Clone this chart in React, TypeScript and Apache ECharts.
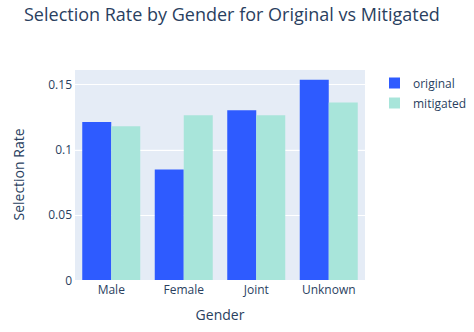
import React, { useEffect, useRef } from "react";
import * as echarts from "echarts";

const categories = ["Male", "Female", "Joint", "Unknown"];
const originalValues = [0.1213, 0.0848, 0.1303, 0.1538];
const mitigatedValues = [0.118, 0.1265, 0.1265, 0.1362];
const seriesNames = ["original", "mitigated"];

const FONT = "'Open Sans', 'DejaVu Sans', sans-serif";
const TXT = "#2a3f5f";

export default function App() {
  const ref = useRef<HTMLDivElement>(null);
  useEffect(() => {
    document.body.style.margin = "0";
    const chart = echarts.init(ref.current!, undefined, { renderer: "svg" });
    chart.setOption({
      animation: false,
      backgroundColor: "#ffffff",
      textStyle: { fontFamily: FONT },
      title: {
        text: "Selection Rate by Gender for Original vs Mitigated",
        left: 19,
        top: 0,
        textStyle: { fontFamily: FONT, fontSize: 18, fontWeight: "normal", color: TXT },
      },
      legend: {
        orient: "vertical",
        left: 384,
        top: 72,
        itemWidth: 11,
        itemHeight: 11,
        itemGap: 8,
        icon: "rect",
        data: seriesNames,
        textStyle: { fontFamily: FONT, fontSize: 12, color: TXT, padding: [0, 0, 0, 8] },
      },
      grid: { left: 75, right: 109, top: 69, bottom: 52, containLabel: false },
      xAxis: {
        type: "category",
        data: categories,
        name: "Gender",
        nameLocation: "middle",
        nameGap: 27,
        nameTextStyle: { fontFamily: FONT, fontSize: 14, color: TXT },
        axisLine: { show: false },
        axisTick: { show: false },
        axisLabel: { fontFamily: FONT, fontSize: 12, color: TXT, margin: 3 },
        splitLine: { show: false },
      },
      yAxis: {
        type: "value",
        min: 0,
        max: 0.162,
        interval: 0.05,
        name: "Selection Rate",
        nameLocation: "middle",
        nameGap: 50,
        nameTextStyle: { fontFamily: FONT, fontSize: 14, color: TXT },
        axisLine: { show: false },
        axisTick: { show: false },
        axisLabel: {
          fontFamily: FONT,
          fontSize: 12,
          color: TXT,
          margin: 3,
          showMaxLabel: false,
        },
        splitLine: { show: true, lineStyle: { color: "#ffffff", width: 1 } },
        splitArea: { show: true, areaStyle: { color: ["#E5ECF6", "#E5ECF6"] } },
      },
      series: [
        {
          name: seriesNames[0],
          type: "bar",
          data: originalValues,
          itemStyle: { color: "#2E5BFF" },
          barGap: "0%",
          barCategoryGap: "20%",
        },
        {
          name: seriesNames[1],
          type: "bar",
          data: mitigatedValues,
          itemStyle: { color: "#A8E5DA" },
          barGap: "0%",
          barCategoryGap: "20%",
        },
      ],
    });
    return () => chart.dispose();
  }, []);
  return <div ref={ref} style={{ width: 474, height: 332 }} />;
}
